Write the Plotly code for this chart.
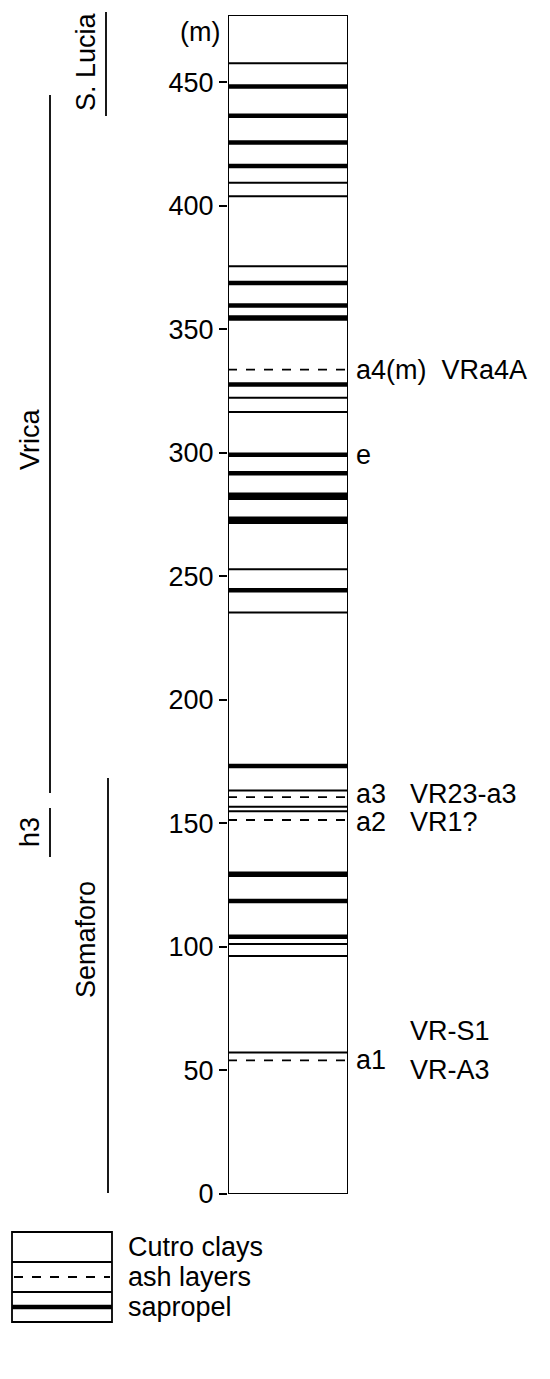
import plotly.graph_objects as go

thin_layers = [457.8, 409.4, 403.9, 375.6, 322.3, 316.6, 252.9, 235.4, 163.4, 156.8, 155.0, 101.2, 96.4, 57.3]
sapropel_layers = [448.4, 436.5, 425.7, 416.2, 368.8, 359.7, 354.6, 327.7, 299.3, 291.8, 244.4, 173.3, 129.4, 118.6, 104.1]
sapropel_widths = [4.5, 4.5, 4.5, 4.5, 4.5, 4.5, 5.5, 4.5, 4.5, 4.5, 4.5, 4.5, 5.5, 4.5, 4.5]
thick_sapropel = [282.5, 272.8]
ash_layers = [333.7, 160.7, 151.4, 54.1]
top_m = 477.3
yticks = [0, 50, 100, 150, 200, 250, 300, 350, 400, 450]

W, H = 550, 1379
OFF = 8
L, R, T, B = 220, 210, 7, 193
def px(x): return (x - OFF - L) / (W - L - R)
def py(y): return (H - B - (y - OFF)) / (H - T - B)

fig = go.Figure()
def hline(y, w, dash="solid"):
    fig.add_trace(go.Scatter(x=[0, 1], y=[y, y], mode="lines",
                             line=dict(color="black", width=w, dash=dash),
                             hoverinfo="skip", showlegend=False))
for y in thin_layers: hline(y, 2)
for y, w in zip(sapropel_layers, sapropel_widths): hline(y, w)
for y in thick_sapropel: hline(y, 7.5)
for y in ash_layers: hline(y, 1.8, "dash")

fig.add_shape(type="rect", x0=0, x1=1, y0=0, y1=top_m, line=dict(color="black", width=2))

font = dict(family="Liberation Sans, Arial", size=27, color="black")
ann = []
def text(x, y, t, xref="paper", yref="y", angle=0, anchor="left"):
    ann.append(dict(x=x, y=y, xref=xref, yref=yref, text=t, showarrow=False,
                    textangle=angle, xanchor=anchor, yanchor="middle", font=font))
text(px(354), 333.7, "a4(m)  VRa4A")
text(px(354), 299.3, "e")
text(px(354), 162, "a3")
text(px(408), 162, "VR23-a3")
text(px(354), 150.5, "a2")
text(px(408), 150.5, "VR1?")
text(px(354), 54.1, "a1")
text(px(408), 66, "VR-S1")
text(px(408), 50, "VR-A3")
text(px(200), py(32), "(m)", yref="paper", anchor="center")
text(px(86), py(62), "S. Lucia", yref="paper", angle=-90, anchor="center")
text(px(30), py(440), "Vrica", yref="paper", angle=-90, anchor="center")
text(px(30), py(832), "h3", yref="paper", angle=-90, anchor="center")
text(px(86), py(940), "Semaforo", yref="paper", angle=-90, anchor="center")
text(px(126), py(1247), "Cutro clays", yref="paper")
text(px(126), py(1277), "ash layers", yref="paper")
text(px(126), py(1307), "sapropel", yref="paper")

def vl(x, y0, y1):
    fig.add_shape(type="line", xref="paper", yref="paper", x0=px(x), x1=px(x),
                  y0=py(y0), y1=py(y1), line=dict(color="black", width=1.8))
vl(106, 12, 116)
vl(50, 95, 793)
vl(50, 808, 857)
vl(108, 778, 1193)

def pl(x0, x1, y, w=1.8, dash="solid"):
    fig.add_shape(type="line", xref="paper", yref="paper", x0=px(x0), x1=px(x1),
                  y0=py(y), y1=py(y), line=dict(color="black", width=w, dash=dash))
fig.add_shape(type="rect", xref="paper", yref="paper", x0=px(12), x1=px(112),
              y0=py(1232), y1=py(1322), line=dict(color="black", width=1.8))
pl(12, 112, 1262)
pl(12, 112, 1292)
pl(14, 110, 1277, 1.8, "dash")
pl(12, 112, 1307, 4.5)

fig.update_layout(width=W, height=H, margin=dict(l=L, r=R, t=T, b=B),
                  plot_bgcolor="white", paper_bgcolor="white", annotations=ann,
                  showlegend=False)
fig.update_xaxes(range=[0, 1], visible=False)
fig.update_yaxes(range=[0, top_m], tickvals=yticks, ticks="outside", ticklen=8,
                 tickwidth=1.8, tickcolor="black", showgrid=False, zeroline=False,
                 showline=False, tickfont=font)
fig.write_html("out.html")
